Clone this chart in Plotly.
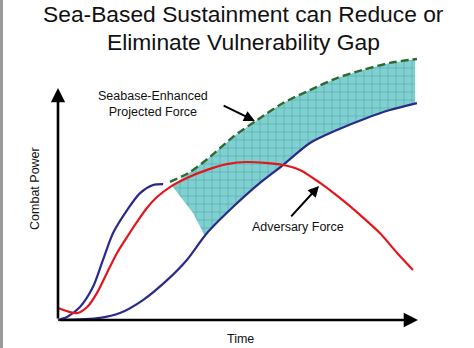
import numpy as np
import plotly.graph_objects as go

# ---- data (Time / Combat Power, arbitrary units) ----
own_early_t = [0, 2.5, 6.1, 9.7, 12.5, 15.3, 19.2, 22.8, 26.4, 29.2]
own_early_p = [0, 1.3, 5.6, 14.2, 25.9, 37.5, 47.4, 54.7, 58.2, 58.6]

adv_t = [0, 5.3, 8.1, 10.8, 13.6, 16.4, 19.2, 21.9, 24.7, 27.5, 31.1, 35.8, 41.4, 46.9, 52.5,
         62.5, 67.2, 72.8, 78.3, 83.9, 89.4, 94.2, 98.6]
adv_p = [5.2, 3.0, 5.6, 11.6, 20.3, 28.9, 35.8, 42.2, 48.3, 53.0, 57.3, 61.2, 64.7, 67.2, 68.1,
         66.8, 64.7, 59.1, 52.6, 45.3, 37.5, 28.9, 21.6]

proj_t = [0, 11.7, 17.2, 23.6, 30.3, 35.8, 41.4, 48.6, 56.1, 62.5, 70, 77.5, 85.8, 92.2, 99.7]
proj_p = [0, 0.9, 3.0, 8.6, 17.2, 25.9, 37.5, 48.7, 59.1, 66.8, 76.3, 81.9, 87.1, 90.5, 93.5]

sea_t = [31.1, 36.7, 42.2, 48.6, 55.3, 62.5, 70, 77.5, 84.7, 92.2, 99.7]
sea_p = [59.5, 63.8, 70.3, 78.9, 86.2, 93.5, 99.1, 104.3, 107.8, 110.8, 112.5]

gap_left_t = [31.7, 34.7, 37.5, 40.8]
gap_left_p = [57.8, 51.7, 46.1, 37.9]
gap_right_t = 99.2

title_lines = ["Sea-Based Sustainment can Reduce or", "Eliminate Vulnerability Gap"]
label_sea = "Seabase-Enhanced<br>Projected Force"
label_adv = "Adversary Force"
x_label = "Time"
y_label = "Combat Power"

BLUE = "#2a2a8a"
RED = "#e3161d"
GREEN = "#2e6a2e"
FONT = "Liberation Sans, Arial, sans-serif"

# ---- gap polygon built from the curves ----
top_t = [gap_left_t[0]] + [t for t in sea_t if gap_left_t[0] < t < gap_right_t] + [gap_right_t]
top_p = list(np.interp(top_t, sea_t, sea_p))
top_p[0] = gap_left_p[0]
bot_t = [gap_right_t] + [t for t in proj_t[::-1] if gap_left_t[-1] < t < gap_right_t] + [gap_left_t[-1]]
bot_p = list(np.interp(bot_t, proj_t, proj_p))
poly_t = top_t + bot_t + gap_left_t[::-1][1:]
poly_p = top_p + bot_p + gap_left_p[::-1][1:]

fig = go.Figure()
fig.add_trace(go.Scatter(
    x=poly_t, y=poly_p, mode="lines", fill="toself", line=dict(width=0, color="#7acfcf"),
    fillcolor="#7dcfcf",
    fillpattern=dict(shape="+", size=8, solidity=0.14, fgcolor="#4ea7ad", bgcolor="#80d0d0",
                     fillmode="replace"),
    hoverinfo="skip"))
fig.add_trace(go.Scatter(x=proj_t, y=proj_p, mode="lines",
                         line=dict(color=BLUE, width=2.2, shape="spline", smoothing=0.8)))
fig.add_trace(go.Scatter(x=own_early_t, y=own_early_p, mode="lines",
                         line=dict(color=BLUE, width=2.2, shape="spline", smoothing=0.8)))
fig.add_trace(go.Scatter(x=adv_t, y=adv_p, mode="lines",
                         line=dict(color=RED, width=2.2, shape="spline", smoothing=0.8)))
fig.add_trace(go.Scatter(x=sea_t, y=sea_p, mode="lines",
                         line=dict(color=GREEN, width=2.4, shape="spline", smoothing=0.8, dash="8px,4px")))

ann = []
# axes with arrows
ann.append(dict(x=0, y=100, ax=0, ay=0, xref="x", yref="y", axref="x", ayref="y",
                showarrow=True, arrowhead=2, arrowsize=1.1, arrowwidth=2.6, arrowcolor="black", text=""))
ann.append(dict(x=100, y=0, ax=0, ay=0, xref="x", yref="y", axref="x", ayref="y",
                showarrow=True, arrowhead=2, arrowsize=1.1, arrowwidth=2.6, arrowcolor="black", text=""))
# pointer arrows
ann.append(dict(x=54.7, y=85.8, ax=45.6, ay=92.7, xref="x", yref="y", axref="x", ayref="y",
                showarrow=True, arrowhead=2, arrowsize=1.1, arrowwidth=2, arrowcolor="black", text=""))
ann.append(dict(x=72.5, y=57.8, ax=64.4, ay=44.0, xref="x", yref="y", axref="x", ayref="y",
                showarrow=True, arrowhead=2, arrowsize=1.1, arrowwidth=2, arrowcolor="black", text=""))
# labels
ann.append(dict(x=26.4, y=93.0, xref="x", yref="y", text=label_sea, showarrow=False,
                font=dict(family=FONT, size=12.5, color="#111")))
ann.append(dict(x=66.7, y=40.1, xref="x", yref="y", text=label_adv, showarrow=False,
                font=dict(family=FONT, size=12.5, color="#111")))
ann.append(dict(x=50.6, y=-8.2, xref="x", yref="y", text=x_label, showarrow=False,
                font=dict(family=FONT, size=12.5, color="#111")))
ann.append(dict(x=-6.4, y=56.9, xref="x", yref="y", text=y_label, showarrow=False, textangle=-90,
                font=dict(family=FONT, size=12.5, color="#111")))
for i, line in enumerate(title_lines):
    ann.append(dict(x=0.513, y=1 - (14 + 28 * i) / 348, xref="paper", yref="paper", text=line,
                    showarrow=False, xanchor="center", yanchor="middle",
                    font=dict(family=FONT, size=22.8, color="#111")))

fig.update_layout(
    width=474, height=348, margin=dict(l=0, r=0, t=0, b=0),
    paper_bgcolor="white", plot_bgcolor="white", showlegend=False,
    xaxis=dict(range=[-58 / 3.6, (474 - 58) / 3.6], visible=False, fixedrange=True),
    yaxis=dict(range=[-28 / 2.32, 320 / 2.32], visible=False, fixedrange=True),
    annotations=ann,
    shapes=[dict(type="rect", xref="paper", yref="paper", x0=0, x1=3 / 474, y0=0, y1=1,
                 fillcolor="#9a9a9a", line=dict(width=0))],
)
fig.write_html("out.html")
